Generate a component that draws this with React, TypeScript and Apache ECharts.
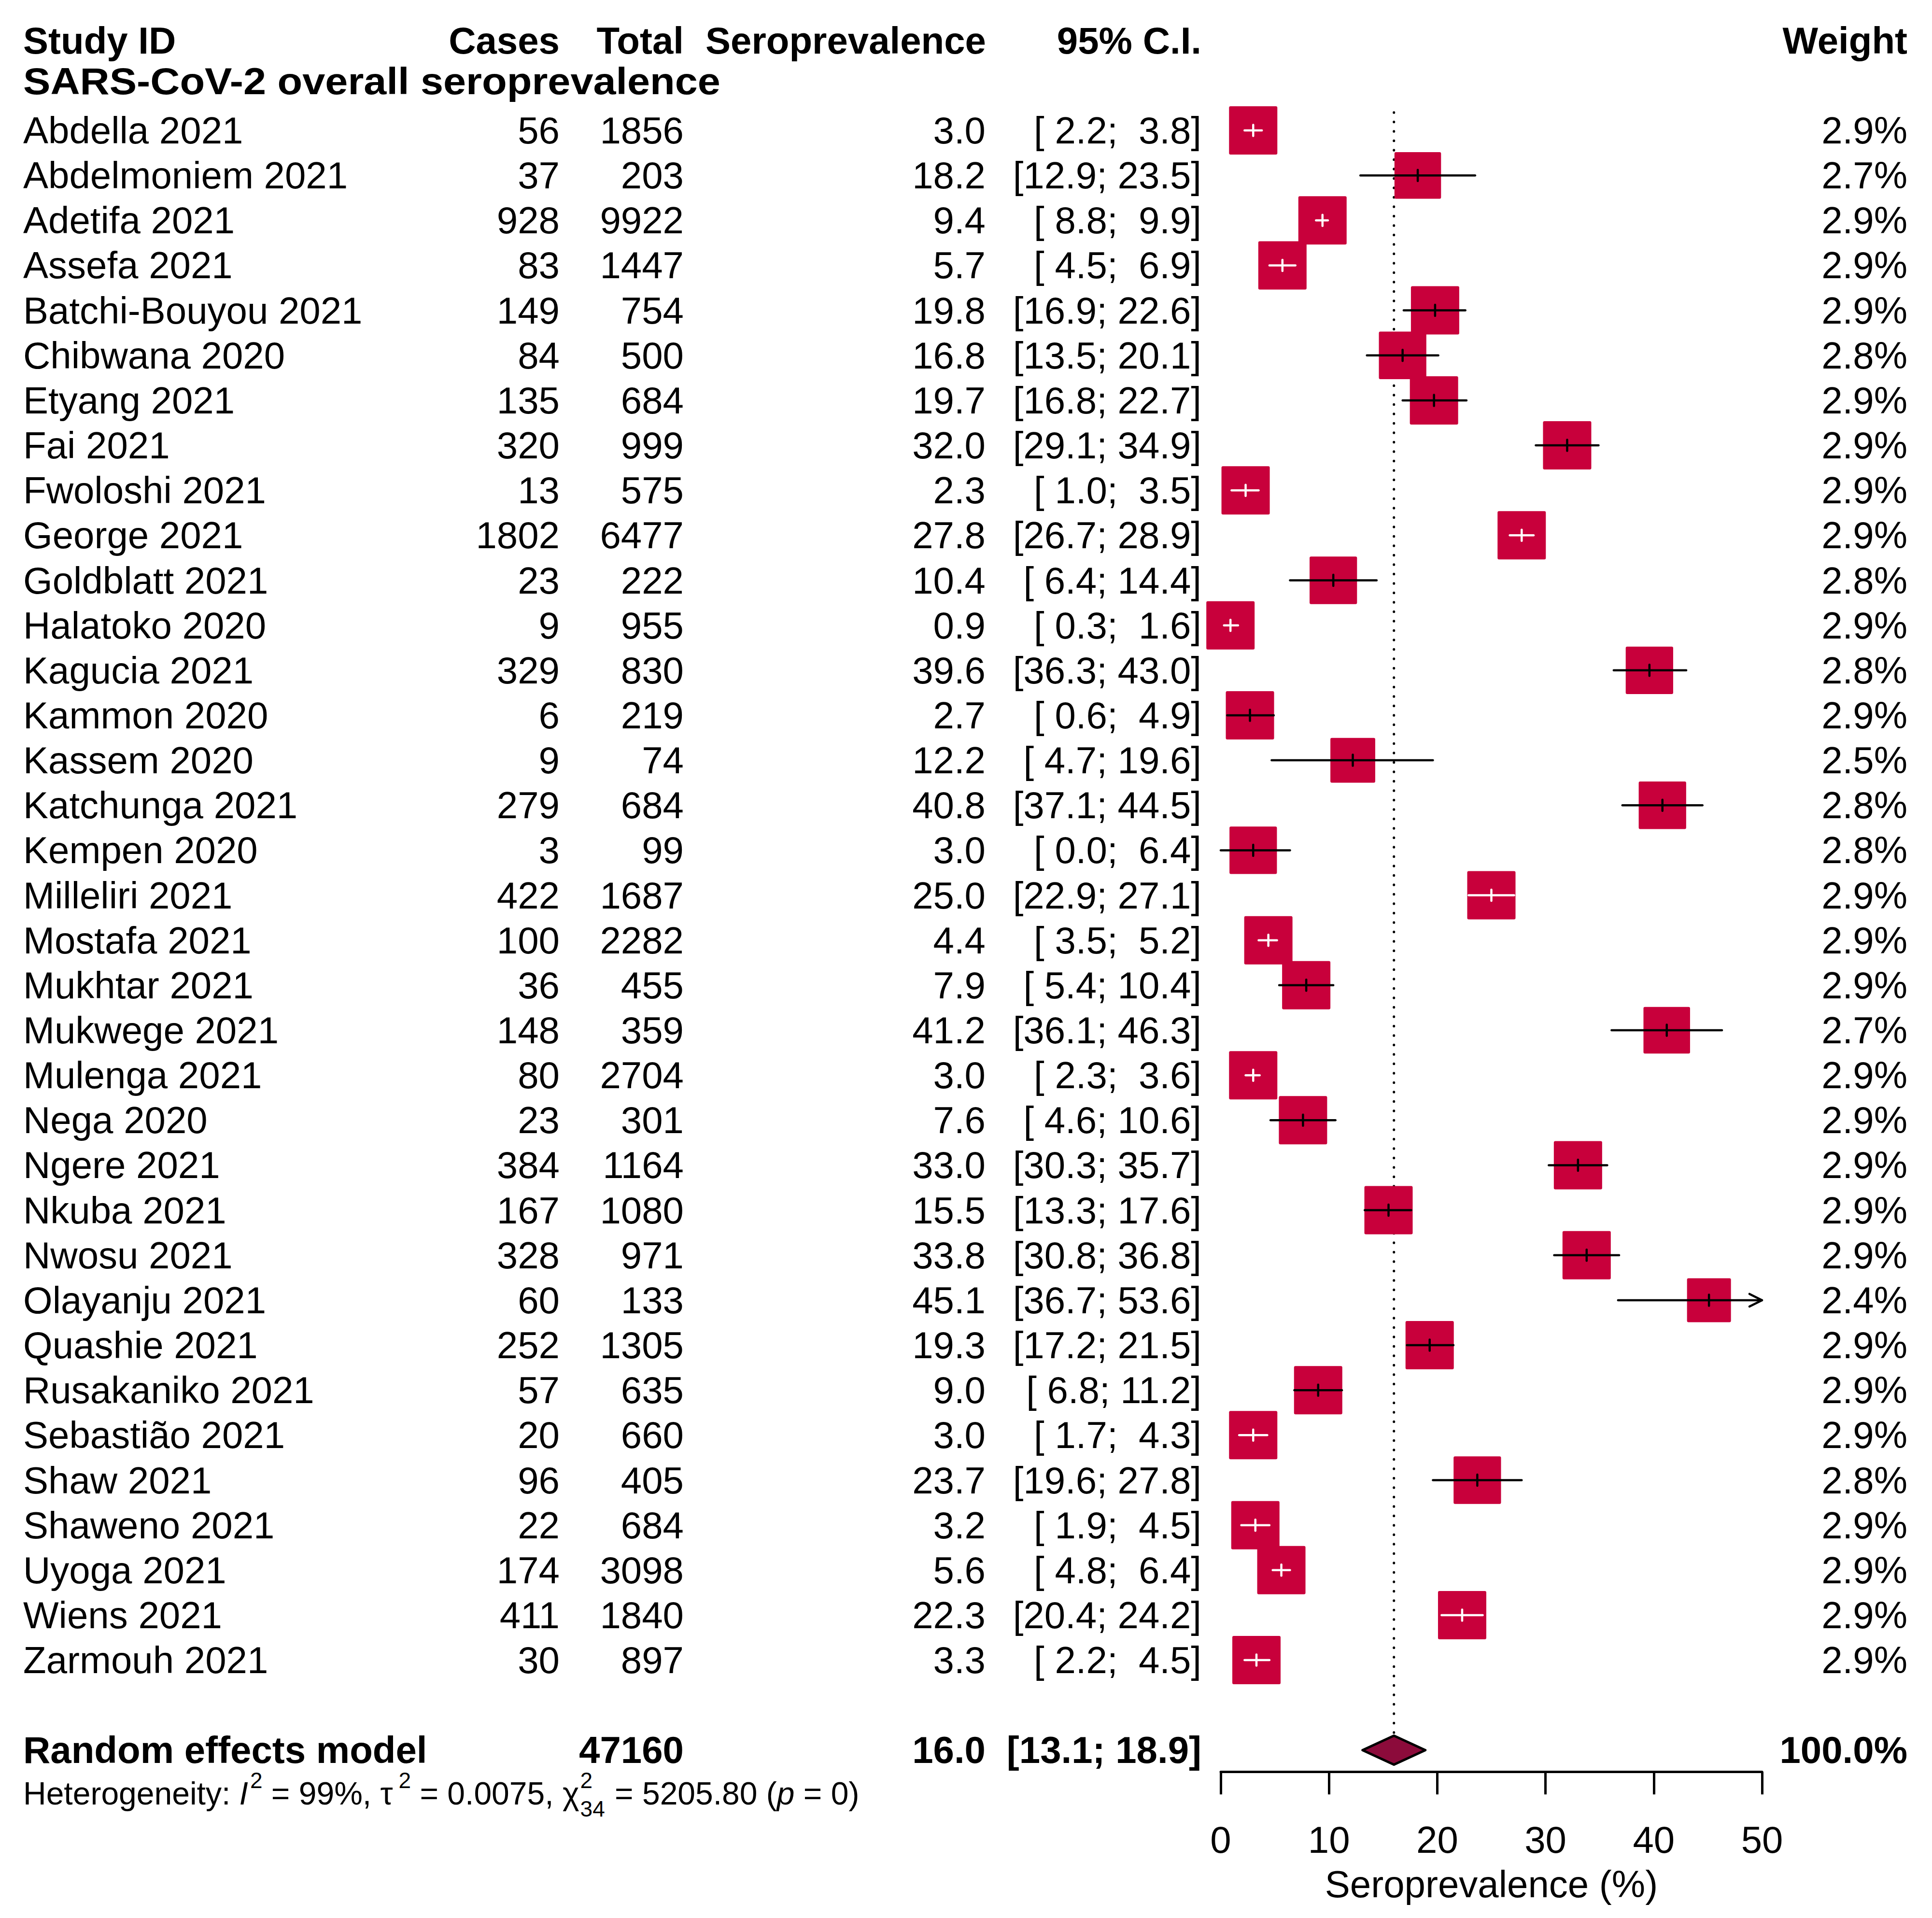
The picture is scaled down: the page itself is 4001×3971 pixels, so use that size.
import React, { useEffect, useRef } from "react";
import * as echarts from "echarts";

// ---------------- data ----------------
const studyNames = [
  "Abdella 2021", "Abdelmoniem 2021", "Adetifa 2021", "Assefa 2021", "Batchi-Bouyou 2021",
  "Chibwana 2020", "Etyang 2021", "Fai 2021", "Fwoloshi 2021", "George 2021",
  "Goldblatt 2021", "Halatoko 2020", "Kagucia 2021", "Kammon 2020", "Kassem 2020",
  "Katchunga 2021", "Kempen 2020", "Milleliri 2021", "Mostafa 2021", "Mukhtar 2021",
  "Mukwege 2021", "Mulenga 2021", "Nega 2020", "Ngere 2021", "Nkuba 2021",
  "Nwosu 2021", "Olayanju 2021", "Quashie 2021", "Rusakaniko 2021", "Sebastião 2021",
  "Shaw 2021", "Shaweno 2021", "Uyoga 2021", "Wiens 2021", "Zarmouh 2021",
];
const cases = [56, 37, 928, 83, 149, 84, 135, 320, 13, 1802, 23, 9, 329, 6, 9, 279, 3, 422, 100, 36, 148, 80, 23, 384, 167, 328, 60, 252, 57, 20, 96, 22, 174, 411, 30];
const totals = [1856, 203, 9922, 1447, 754, 500, 684, 999, 575, 6477, 222, 955, 830, 219, 74, 684, 99, 1687, 2282, 455, 359, 2704, 301, 1164, 1080, 971, 133, 1305, 635, 660, 405, 684, 3098, 1840, 897];
const estimates = [3.0, 18.2, 9.4, 5.7, 19.8, 16.8, 19.7, 32.0, 2.3, 27.8, 10.4, 0.9, 39.6, 2.7, 12.2, 40.8, 3.0, 25.0, 4.4, 7.9, 41.2, 3.0, 7.6, 33.0, 15.5, 33.8, 45.1, 19.3, 9.0, 3.0, 23.7, 3.2, 5.6, 22.3, 3.3];
const lowers = [2.2, 12.9, 8.8, 4.5, 16.9, 13.5, 16.8, 29.1, 1.0, 26.7, 6.4, 0.3, 36.3, 0.6, 4.7, 37.1, 0.0, 22.9, 3.5, 5.4, 36.1, 2.3, 4.6, 30.3, 13.3, 30.8, 36.7, 17.2, 6.8, 1.7, 19.6, 1.9, 4.8, 20.4, 2.2];
const uppers = [3.8, 23.5, 9.9, 6.9, 22.6, 20.1, 22.7, 34.9, 3.5, 28.9, 14.4, 1.6, 43.0, 4.9, 19.6, 44.5, 6.4, 27.1, 5.2, 10.4, 46.3, 3.6, 10.6, 35.7, 17.6, 36.8, 53.6, 21.5, 11.2, 4.3, 27.8, 4.5, 6.4, 24.2, 4.5];
const weights = [2.9, 2.7, 2.9, 2.9, 2.9, 2.8, 2.9, 2.9, 2.9, 2.9, 2.8, 2.9, 2.8, 2.9, 2.5, 2.8, 2.8, 2.9, 2.9, 2.9, 2.7, 2.9, 2.9, 2.9, 2.9, 2.9, 2.4, 2.9, 2.9, 2.9, 2.8, 2.9, 2.9, 2.9, 2.9];
// CI drawn in white when it fits inside the square (as in the picture)
const whiteInside = [true, false, true, true, false, false, false, false, true, true, false, true, false, false, false, false, false, true, true, false, false, true, false, false, false, false, false, false, false, true, false, true, true, true, true];

const pooledLabel = "Random effects model";
const pooledTotal = 47160;
const pooledEst = 16.0;
const pooledLower = 13.1;
const pooledUpper = 18.9;
const pooledWeight = 100.0;

const headerLabels = ["Study ID", "Cases", "Total", "Seroprevalence", "95% C.I.", "Weight"];
const subgroupLabel = "SARS-CoV-2 overall seroprevalence";
const xAxisTitle = "Seroprevalence (%)";
const xMin = 0;
const xMax = 50;
const xInterval = 10;

// ---------------- layout ----------------
const W = 4001;
const H = 3971;
const FF = "'Liberation Sans', Arial, Helvetica, sans-serif";
const FS = 78;
const ROW_H = 93.15;
const ROW0_Y = 270;
const Y_MIN = -2;
const Y_MAX = 36.48;
const GRID_LEFT = 2528;
const GRID_WIDTH = 1121;
const GRID_TOP = ROW0_Y + Y_MIN * ROW_H;
const GRID_HEIGHT = (Y_MAX - Y_MIN) * ROW_H;
const POOLED_ROW = 36;

const COL_NAME_X = 48;
const COL_CASES_R = 1159;
const COL_TOTAL_R = 1416;
const COL_EST_R = 2041;
const COL_CI_R = 2488;
const COL_W_R = 3950;

const SQUARE_COLOR = "#C8003B";
const DIAMOND_COLOR = "#8C0B3B";
const SQUARE_REF = 100; // px for 2.9%

const NBSP = "\u00A0";
function fmtCI(lo: number, hi: number) {
  const l = lo.toFixed(1);
  const h = hi.toFixed(1);
  const lp = l.length < 4 ? " " : "";
  const hp = h.length < 4 ? NBSP : "";
  return "[" + lp + l + "; " + hp + h + "]";
}

function txt(text: string, x: number, y: number, align: string, bold = false, size = FS, italic = false) {
  const font = `${italic ? "italic " : ""}${bold ? "bold " : ""}${size}px ${FF}`;
  return {
    type: "text",
    style: {
      text,
      x,
      y,
      font,
      fill: "#000",
      align,
      textAlign: align,
      verticalAlign: "middle",
      textVerticalAlign: "middle",
    },
    silent: true,
  } as any;
}

function buildHeterogeneity() {
  const canvas = document.createElement("canvas");
  const ctx = canvas.getContext("2d")!;
  const mw = (t: string, size: number, italic = false) => {
    ctx.font = `${italic ? "italic " : ""}${size}px 'Liberation Sans'`;
    return ctx.measureText(t).width;
  };
  const MAIN = 66;
  const SMALL = 46;
  const BASE = 3736;
  const SUPB = 3702;
  const SUBB = 3761;
  const cy = (b: number, s: number) => b - 0.3465 * s;
  const els: any[] = [];
  let x = COL_NAME_X;
  const put = (t: string, size: number, base: number, italic = false, advance = true) => {
    const lead = t.length - t.trimStart().length;
    const leadW = lead > 0 ? mw(t.slice(0, lead), size, italic) : 0;
    const core = t.trim();
    const e = txt(core, x + leadW, cy(base, size), "left", false, size, italic);
    els.push(e);
    const w = mw(t, size, italic);
    if (advance) x += w;
    return w;
  };
  put("Heterogeneity: ", MAIN, BASE);
  put("I", MAIN, BASE, true);
  x += 4;
  put("2", SMALL, SUPB);
  put(" = 99%, ", MAIN, BASE);
  put("τ", MAIN, BASE);
  x += 12;
  put("2", SMALL, SUPB);
  put(" = 0.0075, ", MAIN, BASE);
  put("χ", MAIN, BASE);
  x += 2;
  const w1 = put("2", SMALL, SUPB, false, false);
  const w2 = put("34", SMALL, SUBB, false, false);
  x += Math.max(w1, w2) + 2;
  put(" = 5205.80 (", MAIN, BASE);
  put("p", MAIN, BASE, true);
  put(" = 0)", MAIN, BASE);
  return els;
}

function buildOption() {
  const headerY = ROW0_Y + Y_MIN * ROW_H + 0.5;
  const subY = 168;
  const sub = txt(subgroupLabel, COL_NAME_X, subY, "left", true);
  sub.scaleX = 1.085;
  sub.originX = COL_NAME_X;
  sub.originY = subY;
  const graphics: any[] = [
    txt(headerLabels[0], COL_NAME_X, headerY, "left", true),
    txt(headerLabels[1], COL_CASES_R, headerY, "right", true),
    txt(headerLabels[2], COL_TOTAL_R, headerY, "right", true),
    txt(headerLabels[3], COL_EST_R + 1, headerY, "right", true),
    txt(headerLabels[4], COL_CI_R, headerY, "right", true),
    txt(headerLabels[5], COL_W_R, headerY, "right", true),
    sub,
    ...buildHeterogeneity(),
  ];

  const studyData = studyNames.map((_, i) => [estimates[i], i, lowers[i], uppers[i], weights[i]]);

  return {
    animation: false,
    backgroundColor: "#ffffff",
    grid: { left: GRID_LEFT, top: GRID_TOP, width: GRID_WIDTH, height: GRID_HEIGHT, containLabel: false },
    xAxis: {
      type: "value",
      min: xMin,
      max: xMax,
      interval: xInterval,
      position: "bottom",
      axisLine: { show: true, onZero: false, lineStyle: { color: "#000", width: 5 } },
      axisTick: { show: true, inside: false, length: 47, lineStyle: { color: "#000", width: 5 } },
      axisLabel: { margin: 102, fontSize: FS, fontFamily: FF, color: "#000", lineHeight: FS },
      splitLine: { show: false },
      name: xAxisTitle,
      nameLocation: "middle",
      nameGap: 194,
      nameTextStyle: { fontSize: FS, fontFamily: FF, color: "#000", lineHeight: FS },
    },
    yAxis: {
      type: "value",
      inverse: true,
      min: Y_MIN,
      max: Y_MAX,
      show: false,
    },
    graphic: graphics,
    series: [
      {
        type: "line",
        name: "pooled reference",
        data: [[pooledEst, -0.4], [pooledEst, 35.66]],
        symbol: "none",
        silent: true,
        z: 1,
        lineStyle: { color: "#000", width: 5, type: [0.5, 19], cap: "round" },
      },
      {
        type: "custom",
        name: "studies",
        coordinateSystem: "cartesian2d",
        data: studyData,
        encode: { x: 0, y: 1 },
        silent: true,
        z: 3,
        renderItem: (params: any, api: any) => {
          const idx = params.dataIndex;
          const est = api.value(0);
          const row = api.value(1);
          const lo = api.value(2);
          const hi = api.value(3);
          const w = api.value(4);
          const c = api.coord([est, row]);
          const side = SQUARE_REF * Math.sqrt(w / 2.9);
          const xlo = api.coord([Math.max(lo, xMin), row])[0];
          const clipped = hi > xMax;
          const xhi = api.coord([Math.min(hi, xMax), row])[0];
          const col = whiteInside[idx] ? "#ffffff" : "#000000";
          const children: any[] = [
            {
              type: "rect",
              shape: { x: c[0] - side / 2, y: c[1] - side / 2, width: side, height: side, r: 3 },
              style: { fill: SQUARE_COLOR },
            },
            {
              type: "line",
              shape: { x1: xlo, y1: c[1], x2: xhi, y2: c[1] },
              style: { stroke: col, lineWidth: 4.5, lineCap: "round" },
            },
            {
              type: "line",
              shape: { x1: c[0], y1: c[1] - 11.5, x2: c[0], y2: c[1] + 11.5 },
              style: { stroke: col, lineWidth: 4.5, lineCap: "round" },
            },
          ];
          if (clipped) {
            children.push({
              type: "polyline",
              shape: { points: [[xhi - 26, c[1] - 13], [xhi, c[1]], [xhi - 26, c[1] + 13]] },
              style: { stroke: col, lineWidth: 4.5, fill: "none", lineCap: "round", lineJoin: "round" },
            });
          }
          return { type: "group", children };
        },
      },
      {
        type: "custom",
        name: "table",
        coordinateSystem: "cartesian2d",
        data: studyNames.map((_, i) => [xMin, i]),
        encode: { x: 0, y: 1 },
        silent: true,
        z: 4,
        renderItem: (params: any, api: any) => {
          const i = params.dataIndex;
          const y = api.coord([xMin, api.value(1)])[1];
          return {
            type: "group",
            children: [
              txt(studyNames[i], COL_NAME_X, y, "left"),
              txt(String(cases[i]), COL_CASES_R, y, "right"),
              txt(String(totals[i]), COL_TOTAL_R, y, "right"),
              txt(estimates[i].toFixed(1), COL_EST_R, y, "right"),
              txt(fmtCI(lowers[i], uppers[i]), COL_CI_R, y, "right"),
              txt(weights[i].toFixed(1) + "%", COL_W_R, y, "right"),
            ],
          };
        },
      },
      {
        type: "custom",
        name: "pooled",
        coordinateSystem: "cartesian2d",
        data: [[pooledEst, POOLED_ROW, pooledLower, pooledUpper]],
        encode: { x: 0, y: 1 },
        silent: true,
        z: 4,
        renderItem: (params: any, api: any) => {
          const row = api.value(1);
          const c = api.coord([api.value(0), row]);
          const xl = api.coord([api.value(2), row])[0];
          const xr = api.coord([api.value(3), row])[0];
          const hh = 30;
          const y = c[1];
          return {
            type: "group",
            children: [
              {
                type: "polygon",
                shape: { points: [[xl, y], [c[0], y - hh], [xr, y], [c[0], y + hh]] },
                style: { fill: DIAMOND_COLOR, stroke: "#000", lineWidth: 5, lineJoin: "round" },
              },
              txt(pooledLabel, COL_NAME_X, y, "left", true),
              txt(String(pooledTotal), COL_TOTAL_R, y, "right", true),
              txt(pooledEst.toFixed(1), COL_EST_R, y, "right", true),
              txt(fmtCI(pooledLower, pooledUpper), COL_CI_R, y, "right", true),
              txt(pooledWeight.toFixed(1) + "%", COL_W_R, y, "right", true),
            ],
          };
        },
      },
    ],
  };
}

export default function App() {
  const ref = useRef<HTMLDivElement>(null);
  useEffect(() => {
    if (!ref.current) return;
    const chart = echarts.init(ref.current, null, { renderer: "svg", width: W, height: H });
    chart.setOption(buildOption() as any);
    return () => {
      chart.dispose();
    };
  }, []);
  return (
    <div
      ref={ref}
      style={{ position: "absolute", left: 0, top: 0, width: W + "px", height: H + "px", background: "#fff" }}
    />
  );
}
